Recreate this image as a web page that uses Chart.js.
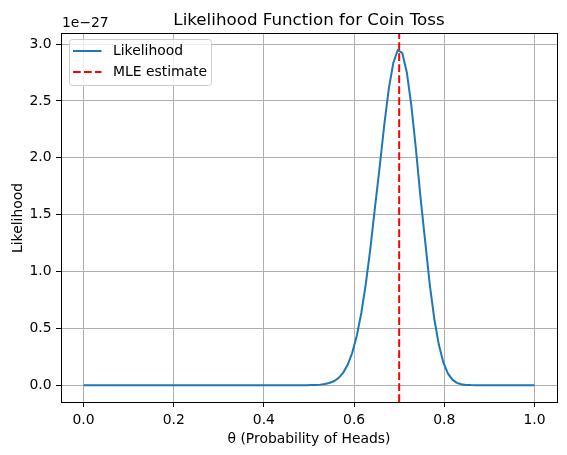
<!DOCTYPE html>
<html>
<head>
<meta charset="utf-8">
<script src="https://cdn.jsdelivr.net/npm/chart.js@4.4.1/dist/chart.umd.min.js"></script>
<style>
  html, body { margin: 0; padding: 0; background: #fff; }
  #wrap { width: 567px; height: 455px; }
</style>
</head>
<body>
<div id="wrap"><canvas id="likelihood-chart" width="567" height="455"></canvas></div>
<script>
// theta values and likelihood (in units of 1e-27)
const theta = [0, 0.2, 0.4, 0.485, 0.495, 0.505, 0.515, 0.525, 0.535, 0.545,
  0.556, 0.566, 0.576, 0.586, 0.596, 0.606, 0.616, 0.626, 0.636, 0.646,
  0.657, 0.667, 0.677, 0.687, 0.697, 0.707, 0.717, 0.727, 0.737, 0.747,
  0.758, 0.768, 0.778, 0.788, 0.798, 0.808, 0.818, 0.828, 0.838, 0.848,
  0.859, 0.869, 0.9, 1.0];
const likelihood = [0, 0, 0, 0.0002, 0.0005, 0.0012, 0.0025, 0.0053, 0.0104, 0.020,
  0.037, 0.065, 0.111, 0.182, 0.287, 0.435, 0.635, 0.891, 1.200, 1.553,
  1.928, 2.292, 2.608, 2.836, 2.948, 2.920, 2.750, 2.459, 2.082, 1.663,
  1.251, 0.881, 0.580, 0.355, 0.200, 0.104, 0.049, 0.021, 0.008, 0.003,
  0.001, 0.0003, 0, 0];
const mleTheta = 0.7;
const yExponent = -27;

const xTicks = [0, 0.2, 0.4, 0.6, 0.8, 1.0];
const yTicks = [0, 0.5, 1.0, 1.5, 2.0, 2.5, 3.0];
const xRange = [-0.05, 1.05];
const yRange = [-0.1475, 3.0975];

const FONT = "'DejaVu Sans', 'Liberation Sans', sans-serif";
const BLUE = "#1f77b4";

// Titles, spines, offset text and legend drawn matplotlib-style
const decorations = {
    id: "decorations",
    afterDatasetsDraw(chart) {
        const { ctx, chartArea: a } = chart;
        ctx.save();
        ctx.strokeStyle = "#000";
        ctx.lineWidth = 1;
        ctx.strokeRect(Math.round(a.left) + 0.5, Math.round(a.top) + 0.5,
            Math.round(a.right - a.left), Math.round(a.bottom - a.top));
        ctx.restore();
    },
    afterDraw(chart) {
        const { ctx, chartArea: a } = chart;
        const cx = (a.left + a.right) / 2;
        ctx.save();
        ctx.fillStyle = "#000";
        ctx.textBaseline = "alphabetic";

        // title
        ctx.font = "16.7px " + FONT;
        ctx.textAlign = "center";
        ctx.fillText("Likelihood Function for Coin Toss", cx, 24.5);

        // x label
        ctx.font = "13.9px " + FONT;
        ctx.fillText("\u03b8 (Probability of Heads)", cx, 443);

        // y label
        ctx.save();
        ctx.translate(21.5, 218);
        ctx.rotate(-Math.PI / 2);
        ctx.fillText("Likelihood", 0, 0);
        ctx.restore();

        // offset text
        ctx.textAlign = "left";
        ctx.fillText("1e\u2212" + Math.abs(yExponent), 62, 27);

        // legend
        ctx.beginPath();
        ctx.roundRect(69.5, 39.5, 142, 46, 3);
        ctx.fillStyle = "rgba(255,255,255,0.8)";
        ctx.fill();
        ctx.strokeStyle = "#cccccc";
        ctx.lineWidth = 1;
        ctx.stroke();

        const rows = [
            { label: "Likelihood", color: BLUE, dash: [], y: 51 },
            { label: "MLE estimate", color: "red", dash: [7.7, 3.3], y: 72 },
        ];
        rows.forEach((r) => {
            ctx.beginPath();
            ctx.setLineDash(r.dash);
            ctx.strokeStyle = r.color;
            ctx.lineWidth = 2;
            ctx.moveTo(73, r.y);
            ctx.lineTo(101.5, r.y);
            ctx.stroke();
            ctx.setLineDash([]);
            ctx.fillStyle = "#000";
            ctx.textBaseline = "middle";
            ctx.fillText(r.label, 113, r.y);
        });
        ctx.restore();
    },
};

const tickFont = { family: FONT, size: 13.9 };

new Chart(document.getElementById("likelihood-chart"), {
    type: "line",
    data: {
        datasets: [
            {
                label: "Likelihood",
                data: theta.map((t, i) => ({ x: t, y: likelihood[i] })),
                borderColor: BLUE,
                borderWidth: 2,
                pointRadius: 0,
                tension: 0,
                fill: false,
            },
            {
                label: "MLE estimate",
                data: [{ x: mleTheta, y: yRange[0] }, { x: mleTheta, y: yRange[1] }],
                borderColor: "red",
                borderWidth: 2,
                borderDash: [7.7, 3.3],
                pointRadius: 0,
                fill: false,
            },
        ],
    },
    options: {
        responsive: false,
        animation: false,
        devicePixelRatio: 1,
        layout: { padding: { top: 33, right: 10, left: 0, bottom: 0 } },
        plugins: { legend: { display: false }, title: { display: false }, tooltip: { enabled: false } },
        scales: {
            x: {
                type: "linear",
                min: xRange[0],
                max: xRange[1],
                afterBuildTicks: (s) => { s.ticks = xTicks.map((v) => ({ value: v })); },
                afterFit: (s) => { s.height = 53; },
                ticks: { font: tickFont, color: "#000", padding: 5, maxRotation: 0,
                    callback: (v) => v.toFixed(1) },
                grid: { color: "#b0b0b0", lineWidth: 1, tickColor: "#000", tickLength: 5 },
                border: { display: true, color: "#000", width: 1 },
            },
            y: {
                type: "linear",
                min: yRange[0],
                max: yRange[1],
                afterBuildTicks: (s) => { s.ticks = yTicks.map((v) => ({ value: v })); },
                afterFit: (s) => { s.width = 61; },
                ticks: { font: tickFont, color: "#000", padding: 4.5,
                    callback: (v) => v.toFixed(1) },
                grid: { color: "#b0b0b0", lineWidth: 1, tickColor: "#000", tickLength: 5 },
                border: { display: true, color: "#000", width: 1 },
            },
        },
    },
    plugins: [decorations],
});
</script>
</body>
</html>
